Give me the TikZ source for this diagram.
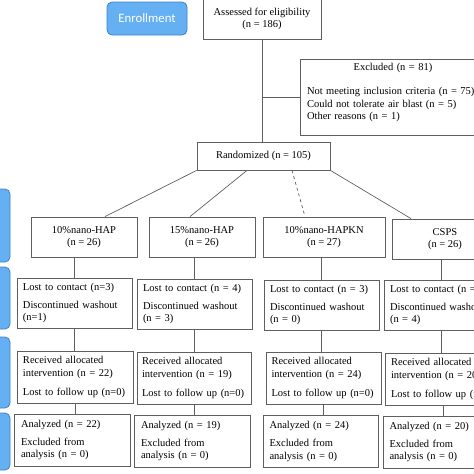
\documentclass[tikz,border=0pt]{standalone}
\usepackage{fontspec}
\setmainfont{Liberation Serif}
\newfontfamily\tabfont{Carlito}
\usepackage{tikz}
\definecolor{tabblue}{RGB}{100,176,242}
\definecolor{tabedge}{RGB}{62,130,205}
\definecolor{linec}{RGB}{95,95,95}
\tikzstyle{box} = [draw=linec, line width=0.8pt, fill=white, inner sep=0pt, font=\fontsize{10.5}{12.6}\selectfont, align=center]
\tikzstyle{lbox} = [box, align=left]
\tikzstyle{tab} = [draw=tabedge, line width=0.8pt, fill=tabblue, rounded corners=5pt, minimum width=20pt, inner sep=0pt]
\tikzstyle{link} = [draw=linec, line width=0.7pt]

\begin{document}
\begin{tikzpicture}[x=1pt, y=-1pt]
        \useasboundingbox (0,0) rectangle (474,474);
        \clip (0,0) rectangle (474,474);
        \node (enrol) [tab, minimum width=80pt, minimum height=33pt, text=white, font=\tabfont\fontsize{12.8}{14}\selectfont] at (147,18.5) {Enrollment};
        \node (tab1) [tab, minimum height=73pt] at (0,225.5) {};
        \node (tab2) [tab, minimum height=62pt] at (0,298) {};
        \node (tab3) [tab, minimum height=71pt] at (0,372.5) {};
        \node (tab4) [tab, minimum height=57pt] at (0,441.5) {};
        \node (assess) [box, minimum width=118pt, minimum height=40pt] at (262,19) {Assessed for eligibility\\(n = 186)};
        \node (excl) [lbox, minimum width=186pt, minimum height=76pt, text width=172pt] at (393,97) {\makebox[\linewidth]{Excluded (n = 81)}\\[11pt]Not meeting inclusion criteria (n = 75)\\Could not tolerate air blast (n = 5)\\Other reasons (n = 1)\\[-2pt]\mbox{}};
        \node (rand) [box, minimum width=133pt, minimum height=28pt] at (263.5,156) {Randomized (n = 105)};
        \node (g1) [box, minimum width=106pt, minimum height=40pt] at (84,237) {10\%nano-HAP\\(n = 26)};
        \node (g2) [box, minimum width=106pt, minimum height=40pt] at (202,237) {15\%nano-HAP\\(n = 26)};
        \node (g3) [box, minimum width=122pt, minimum height=40pt] at (324,237) {10\%nano-HAPKN\\(n = 27)};
        \node (g4) [box, minimum width=106pt, minimum height=40pt] at (445,239) {CSPS\\(n = 26)};
        \node (l1) [lbox, minimum width=115pt, minimum height=50pt, text width=103pt] at (74.5,303) {Lost to contact (n=3)\\[5pt]Discontinued washout\\(n=1)};
        \node (l2) [lbox, minimum width=115pt, minimum height=50pt, text width=103pt] at (194.5,304) {Lost to contact (n = 4)\\[5pt]Discontinued washout\\(n = 3)};
        \node (l3) [lbox, minimum width=115pt, minimum height=50pt, text width=103pt] at (321.5,305) {Lost to contact (n = 3)\\[5pt]Discontinued washout\\(n = 0)};
        \node (l4) [lbox, minimum width=115pt, minimum height=50pt, text width=103pt] at (441.5,305) {Lost to contact (n = 2)\\[5pt]Discontinued washout\\(n = 4)};
        \node (r1) [lbox, minimum width=116pt, minimum height=52pt, text width=104pt] at (75,377) {Received allocated\\intervention (n = 22)\\[6pt]Lost to follow up (n=0)};
        \node (r2) [lbox, minimum width=114pt, minimum height=52pt, text width=104pt] at (194,378) {Received allocated\\intervention (n = 19)\\[6pt]Lost to follow up (n=0)};
        \node (r3) [lbox, minimum width=115pt, minimum height=52pt, text width=104pt] at (323.5,378) {Received allocated\\intervention (n = 24)\\[6pt]Lost to follow up (n=0)};
        \node (r4) [lbox, minimum width=116pt, minimum height=52pt, text width=104pt] at (443,379) {Received allocated\\intervention (n = 20)\\[6pt]Lost to follow up (n=0)};
        \node (a1) [lbox, minimum width=116pt, minimum height=52pt, text width=102pt] at (72,440) {Analyzed (n = 22)\\[5pt]Excluded from\\analysis (n = 0)};
        \node (a2) [lbox, minimum width=116pt, minimum height=52pt, text width=102pt] at (192,441) {Analyzed (n = 19)\\[5pt]Excluded from\\analysis (n = 0)};
        \node (a3) [lbox, minimum width=115pt, minimum height=52pt, text width=102pt] at (320.5,441.5) {Analyzed (n = 24)\\[5pt]Excluded from\\analysis (n = 0)};
        \node (a4) [lbox, minimum width=115pt, minimum height=52pt, text width=102pt] at (440.5,442) {Analyzed (n = 20)\\[5pt]Excluded from\\analysis (n = 0)};
        \draw [link] (assess.south) -- (assess.south |- rand.north);
        \draw [link] (assess.south |- excl.west) -- (excl.west);
        \draw [link] (rand.south west) -- ([xshift=21pt]g1.north);
        \draw [link] ([xshift=-16.5pt]rand.south) -- ([xshift=-12pt]g2.north);
        \draw [link, dashed] ([xshift=28.5pt]rand.south) -- ([xshift=-19pt]g3.north);
        \draw [link] (rand.south east) -- ([xshift=-34pt]g4.north);
        \foreach \i in {1,2,3,4} {
            \draw [link] (l\i.north) -- (l\i.north |- g\i.south);
            \draw [link] (l\i.south) -- (l\i.south |- r\i.north);
            \draw [link] (r\i.south) -- (r\i.south |- a\i.north);
        }
    \end{tikzpicture}
\end{document}
